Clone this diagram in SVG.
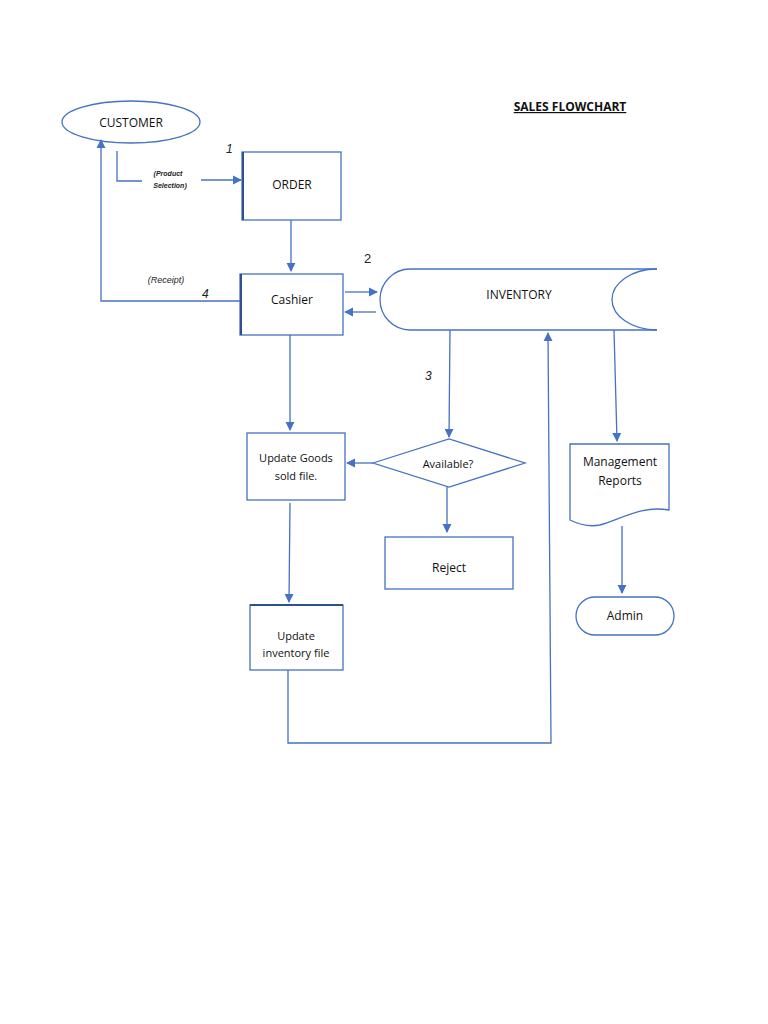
<svg xmlns="http://www.w3.org/2000/svg" width="768" height="1024" viewBox="0 0 768 1024">
<style>
.s{fill:#fff;stroke:#4472c4;stroke-width:1.3}
.c{fill:none;stroke:#4472c4;stroke-width:1.3}
.t{font-family:"Open Sans","Liberation Sans",sans-serif;font-size:12px;fill:#111;text-anchor:middle}
.i{font-family:"Liberation Sans",sans-serif;font-style:italic;fill:#222}
</style>
<defs><marker id="a" viewBox="0 0 10 10" refX="9" refY="5" markerWidth="7" markerHeight="7" orient="auto"><path d="M0,0L10,5L0,10z" fill="#4472c4"/></marker></defs>
<rect width="768" height="1024" fill="#fff"/>
<text x="570" y="111" class="t" style="font-weight:bold;text-decoration:underline">SALES FLOWCHART</text>
<g id="customer"><ellipse cx="131" cy="122" rx="69" ry="21" class="s"/><text x="131" y="127" class="t">CUSTOMER</text></g>
<g id="order"><rect x="242" y="152" width="99" height="68" class="s"/><line x1="243" y1="152" x2="243" y2="220" stroke="#2f4f8f" stroke-width="2"/><text x="292" y="189" class="t">ORDER</text></g>
<g id="cashier"><rect x="240" y="274" width="103" height="61" class="s"/><line x1="241" y1="274" x2="241" y2="335" stroke="#2f4f8f" stroke-width="2"/><text x="292" y="304" class="t">Cashier</text></g>
<g id="inventory"><path d="M657,269H410A30,30.5 0 0 0 410,330H657" class="s"/><path d="M657,269A45,30.5 0 0 0 657,330" class="c"/><text x="519" y="299" class="t">INVENTORY</text></g>
<g id="goods"><rect x="247" y="433" width="98" height="67" class="s"/><text x="296" y="462" class="t" style="font-size:11px">Update Goods</text><text x="296" y="480" class="t" style="font-size:11px">sold file.</text></g>
<g id="available"><polygon points="373,463 449,439 525,463 449,487" class="s"/><text x="448" y="468" class="t" style="font-size:11px">Available?</text></g>
<g id="reject"><rect x="385" y="537" width="128" height="52" class="s"/><text x="449" y="572" class="t">Reject</text></g>
<g id="reports"><path d="M570,444H669V510C640,505 620,520 600,525C590,527 578,524 570,520Z" class="s"/><text x="620" y="466" class="t">Management</text><text x="620" y="485" class="t">Reports</text></g>
<g id="admin"><rect x="576" y="597" width="98" height="38" rx="19" class="s"/><text x="625" y="620" class="t">Admin</text></g>
<g id="updinv"><rect x="250" y="605" width="93" height="65" class="s"/><line x1="250" y1="605" x2="343" y2="605" stroke="#2f4f8f" stroke-width="2"/><text x="296" y="640" class="t" style="font-size:11px">Update</text><text x="296" y="657" class="t" style="font-size:11px">inventory file</text></g>
<g id="connectors">
<path d="M117,151V181H142" class="c"/>
<path d="M201,180H241" class="c" marker-end="url(#a)"/>
<path d="M291,220V271" class="c" marker-end="url(#a)"/>
<path d="M240,301H101V140" class="c" marker-end="url(#a)"/>
<path d="M345,292H377" class="c" marker-end="url(#a)"/>
<path d="M376,312H345" class="c" marker-end="url(#a)"/>
<path d="M290,335V430" class="c" marker-end="url(#a)"/>
<path d="M450,330L449,437" class="c" marker-end="url(#a)"/>
<path d="M373,463H347" class="c" marker-end="url(#a)"/>
<path d="M447,487V532" class="c" marker-end="url(#a)"/>
<path d="M614,330L617,441" class="c" marker-end="url(#a)"/>
<path d="M622,526V593" class="c" marker-end="url(#a)"/>
<path d="M290,503L289,602" class="c" marker-end="url(#a)"/>
<path d="M288,670V743H551L548,333" class="c" marker-end="url(#a)"/>
</g>
<text x="226" y="153" class="i" font-size="12">1</text>
<text x="364" y="263" font-family="Liberation Sans,sans-serif" font-size="13" fill="#222">2</text>
<text x="425" y="380" class="i" font-size="12">3</text>
<text x="202" y="298" class="i" font-size="12">4</text>
<text x="168" y="176" class="i" font-size="7" text-anchor="middle" font-weight="bold">(Product</text>
<text x="170" y="188" class="i" font-size="7" text-anchor="middle" font-weight="bold">Selection)</text>
<text x="166" y="283" class="i" font-size="9" text-anchor="middle">(Receipt)</text>
</svg>
